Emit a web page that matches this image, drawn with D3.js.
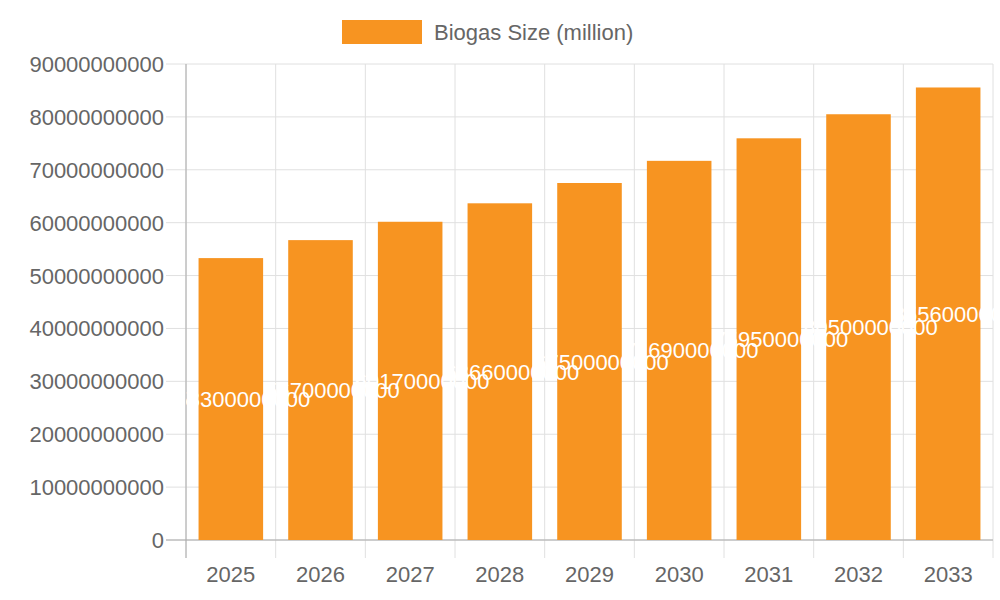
<!DOCTYPE html>
<html><head><meta charset="utf-8">
<script src="https://cdn.jsdelivr.net/npm/d3@7"></script>
<style>body{margin:0;background:#fff}svg{font-family:"Liberation Sans",Arial,sans-serif}</style>
</head><body>
<svg id="c" width="1000" height="600"></svg>
<script>
var years = ["2025","2026","2027","2028","2029","2030","2031","2032","2033"];
var values = [53300000000,56700000000,60170000000,63660000000,67500000000,71690000000,75950000000,80500000000,85560000000];
var yTicks = [0,10000000000,20000000000,30000000000,40000000000,50000000000,60000000000,70000000000,80000000000,90000000000];

var svg = d3.select("#c");
var pLeft = 186, pRight = 993, pTop = 64, pBottom = 540;
var x = d3.scaleBand().domain(years).range([pLeft, pRight]).paddingInner(0.28).paddingOuter(0.14);
var xg = d3.scaleBand().domain(years).range([pLeft, pRight]);
var y = d3.scaleLinear().domain([0, 90000000000]).range([pBottom, pTop]);

// grid
svg.selectAll(".hg").data(yTicks).enter().append("line")
    .attr("x1", pLeft - 20).attr("x2", pRight)
    .attr("y1", function (d) { return y(d); }).attr("y2", function (d) { return y(d); })
    .attr("stroke", "#e0e0e0");
var vx = years.map(function (d) { return xg(d); }).concat([pRight]);
svg.selectAll(".vg").data(vx).enter().append("line")
    .attr("x1", function (d) { return d; }).attr("x2", function (d) { return d; })
    .attr("y1", pTop).attr("y2", pBottom + 18)
    .attr("stroke", "#e0e0e0");
svg.append("line").attr("x1", pLeft).attr("x2", pLeft).attr("y1", pTop).attr("y2", pBottom + 18).attr("stroke", "#aaa");
svg.append("line").attr("x1", pLeft - 20).attr("x2", pRight).attr("y1", pBottom).attr("y2", pBottom).attr("stroke", "#aaa");

// bars
svg.selectAll(".bar").data(values).enter().append("rect")
    .attr("x", function (d, i) { return x(years[i]); })
    .attr("width", x.bandwidth())
    .attr("y", function (d) { return y(d); })
    .attr("height", function (d) { return pBottom - y(d); })
    .attr("fill", "#f79421");

// tick labels
svg.selectAll(".yl").data(yTicks).enter().append("text")
    .attr("x", pLeft - 22).attr("y", function (d) { return y(d) + 8; })
    .attr("text-anchor", "end").attr("font-size", 22).attr("fill", "#666")
    .text(function (d) { return d; });
svg.selectAll(".xl").data(years).enter().append("text")
    .attr("x", function (d) { return xg(d) + xg.bandwidth() / 2; }).attr("y", 582)
    .attr("text-anchor", "middle").attr("font-size", 22).attr("fill", "#666")
    .text(function (d) { return d; });

// value labels
var clip = svg.append("clipPath").attr("id", "pc");
clip.append("rect").attr("x", pLeft).attr("y", 0).attr("width", 1000 - pLeft).attr("height", 600);
svg.append("g").attr("clip-path", "url(#pc)")
    .selectAll("text").data(values).enter().append("text")
    .attr("x", function (d, i) { return x(years[i]) + x.bandwidth() / 2 + 12; })
    .attr("y", function (d) { return (y(d) + pBottom) / 2 + 8; })
    .attr("text-anchor", "middle").attr("font-size", 22).attr("fill", "#fff")
    .text(function (d) { return d; });

// legend
svg.append("rect").attr("x", 342).attr("y", 20).attr("width", 80).attr("height", 24).attr("fill", "#f79421");
svg.append("text").attr("x", 434).attr("y", 40).attr("font-size", 22).attr("fill", "#666").text("Biogas Size (million)");
</script>
</body></html>
